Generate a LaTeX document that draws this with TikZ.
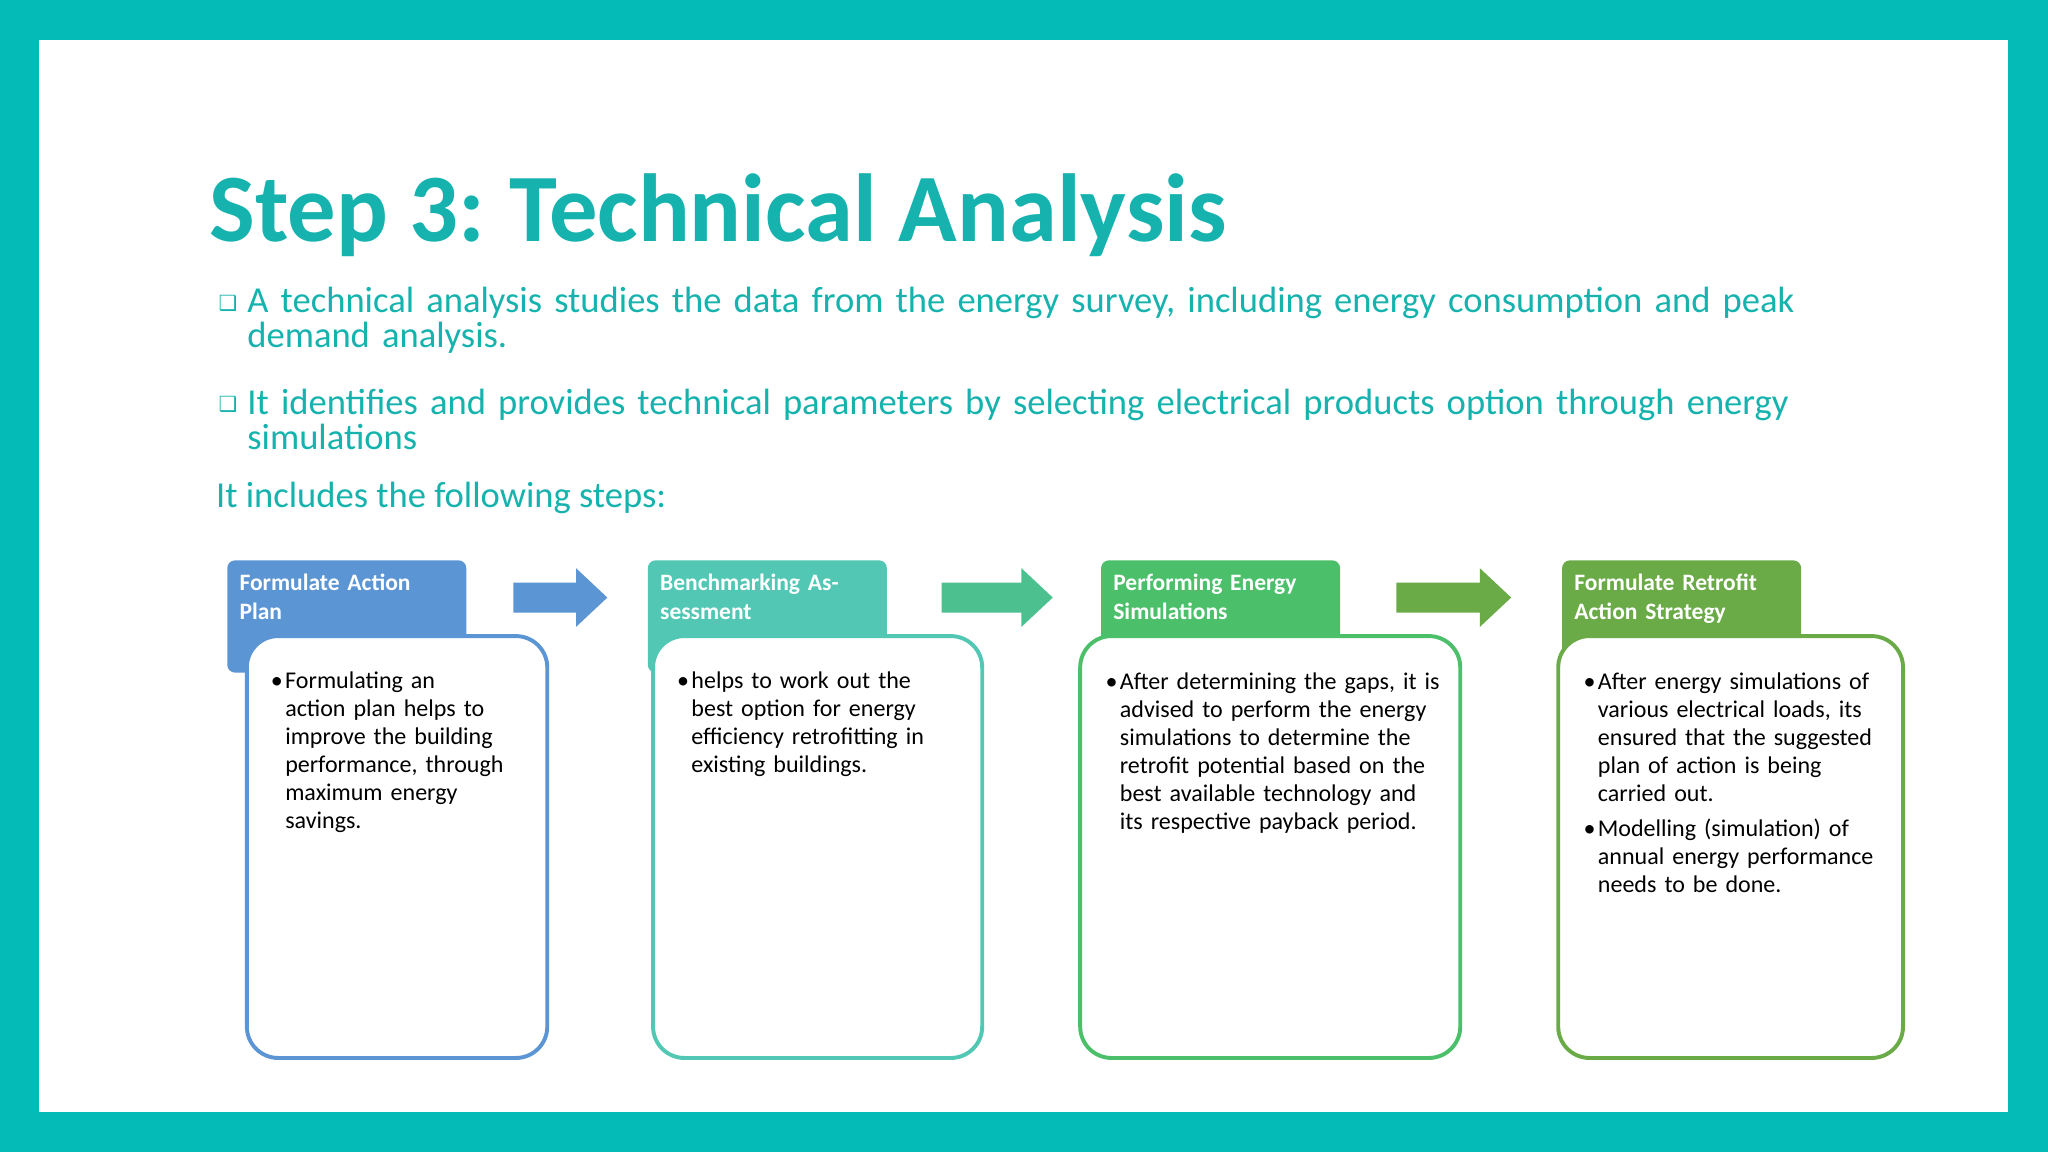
\documentclass[tikz,border=0pt]{standalone}
\usepackage{fontspec}
\setmainfont{Carlito}
\newfontfamily\djv{DejaVu Sans}
\definecolor{frame}{HTML}{05BBB8}
\definecolor{ttl}{HTML}{16B3AE}
\definecolor{cA}{HTML}{5B95D3}
\definecolor{cB}{HTML}{52C8B4}
\definecolor{cC}{HTML}{4CBF6A}
\definecolor{cD}{HTML}{6BAB47}
\definecolor{aB}{HTML}{4CC08E}
\newcommand\bitem[1]{\par\leftskip=5.5pt\parindent=-5.5pt\hyphenpenalty=10000\exhyphenpenalty=10000\makebox[5.5pt][l]{\textbullet}#1\par}
\newcommand\sqitem[1]{\par\leftskip=11pt\parindent=-11pt\hyphenpenalty=10000\makebox[11pt][l]{\raisebox{1pt}{\djv\fontsize{8}{8}\selectfont\char"2751}}#1\par}
\begin{document}
\begin{tikzpicture}[x=0.5pt,y=-0.5pt,
  hdr/.style={font=\bfseries\fontsize{9}{11}\selectfont,text=white,align=left,anchor=north west,inner sep=0pt,text width=82pt},
  body/.style={font=\fontsize{9.2}{10.75}\selectfont,align=left,anchor=north west,inner sep=0pt},
  box/.style={line width=1.5pt,fill=white,rounded corners=12pt}]
\fill[frame] (0,0) rectangle (1568,882);
\fill[white] (30,31) rectangle (1537,851);
\node[anchor=base west,inner sep=0pt,text=ttl,font=\bfseries\fontsize{37}{42}\selectfont] (title) at (160,185) {Step 3:\kern-2pt{} Technical Analysis};
\node[anchor=north west,inner sep=0pt,text=ttl,text width=610pt,align=left,font=\fontsize{14}{13.5}\selectfont] (b1) at (167,212)
 {\sqitem{A technical analysis studies the data from the energy survey, including energy consumption and peak demand analysis.}};
\node[anchor=north west,inner sep=0pt,text=ttl,text width=610pt,align=left,font=\fontsize{14}{13.5}\selectfont] (b2) at (167,290)
 {\sqitem{It identifies and provides technical parameters by selecting electrical products option through energy simulations}};
\node[anchor=north west,inner sep=0pt,text=ttl,font=\fontsize{14}{13.5}\selectfont] (inc) at (165,369) {It includes the following steps:};
% box A
\fill[cA,rounded corners=3pt] (174,429) rectangle (357,515);
\draw[box,draw=cA] (189,487) rectangle (419,810);
\node[hdr] (hA) at (183,439) {Formulate Action Plan};
\node[body,text width=95pt] (tA) at (207,505) {\bitem{Formulating an action plan helps to improve the building performance, through maximum energy savings.}};
% box B
\fill[cB,rounded corners=3pt] (496,429) rectangle (679,515);
\draw[box,draw=cB] (500,487) rectangle (752,810);
\node[hdr] (hB) at (505,439) {Benchmarking Assessment};
\node[body,text width=105pt] (tB) at (518,505) {\bitem{helps to work out the best option for energy efficiency retrofitting in existing buildings.}};
% box C
\fill[cC,rounded corners=3pt] (843,429) rectangle (1026,515);
\draw[box,draw=cC] (827,487) rectangle (1118,810);
\node[hdr] (hC) at (852,439) {Performing Energy Simulations};
\node[body,text width=128pt] (tC) at (846,506) {\bitem{After determining the gaps, it is advised to perform the energy simulations to determine the retrofit potential based on the best available technology and its respective payback period.}};
% box D
\fill[cD,rounded corners=3pt] (1196,429) rectangle (1379,515);
\draw[box,draw=cD] (1193,487) rectangle (1457,810);
\node[hdr] (hD) at (1205,439) {Formulate Retrofit Action Strategy};
\node[body,text width=115pt] (tD) at (1212,506) {\bitem{After energy simulations of various electrical loads, its ensured that the suggested plan of action is being carried out.}\vspace{2.5pt}\bitem{Modelling (simulation) of annual energy performance needs to be done.}};
% arrows
\fill[cA] (393,446) -- (441,446) -- (441,435) -- (465,457.5) -- (441,480) -- (441,469) -- (393,469) -- cycle;
\fill[aB] (721,446) -- (782,446) -- (782,435) -- (806,457.5) -- (782,480) -- (782,469) -- (721,469) -- cycle;
\fill[cD] (1069,446) -- (1133,446) -- (1133,435) -- (1157,457.5) -- (1133,480) -- (1133,469) -- (1069,469) -- cycle;
\end{tikzpicture}
\end{document}
